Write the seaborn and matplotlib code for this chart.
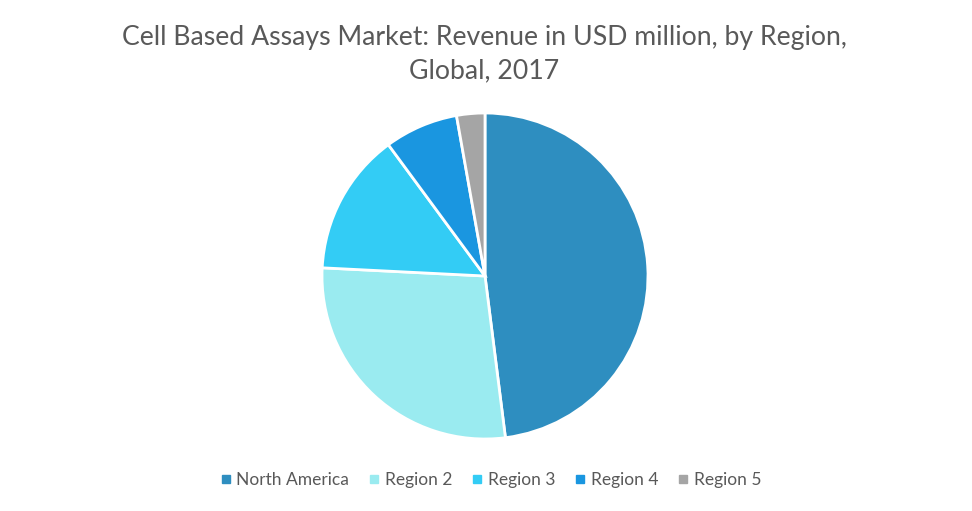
import matplotlib
matplotlib.use("Agg")
import matplotlib.pyplot as plt
import seaborn as sns
from matplotlib.lines import Line2D

regions = ["North America", "Region 2", "Region 3", "Region 4", "Region 5"]
shares = [48.0, 27.8, 14.1, 7.3, 2.8]
colors = ["#2E8EC0", "#9AEBF0", "#33CCF5", "#1A96E0", "#A5A5A5"]

sns.set_theme(style="white")
plt.rcParams['font.family'] = ['Lato', 'DejaVu Sans']

fig = plt.figure(figsize=(9.72, 5.11), dpi=100)
fig.patch.set_facecolor("white")

# pie axes placed so the circle sits where the reference has it
ax = fig.add_axes([(485 - 163) / 972, (511 - 439) / 511, 326 / 972, 326 / 511])
pal = sns.color_palette(colors)
ax.pie(shares, colors=pal, startangle=90, counterclock=False,
       wedgeprops=dict(edgecolor="white", linewidth=2))
ax.set_xlim(-1.0, 1.0)
ax.set_ylim(-1.0, 1.0)
ax.set_aspect("equal")

fig.text(484 / 972, 1 - 38 / 511, "Cell Based Assays Market: Revenue in USD million, by Region,",
         ha="center", va="center", fontsize=19.2, color="#595959")
fig.text(484 / 972, 1 - 71 / 511, "Global, 2017",
         ha="center", va="center", fontsize=19.2, color="#595959")

handles = [Line2D([0], [0], marker="s", linestyle="", markersize=6,
                  markerfacecolor=c, markeredgecolor=c) for c in pal]
fig.legend(handles, regions, loc="center", bbox_to_anchor=(491 / 972, 1 - 480 / 511),
           ncol=5, frameon=False, fontsize=12.5, labelcolor="#595959",
           handlelength=0.6, handletextpad=0.3, columnspacing=1.15)

plt.savefig("out.png", dpi=100)
